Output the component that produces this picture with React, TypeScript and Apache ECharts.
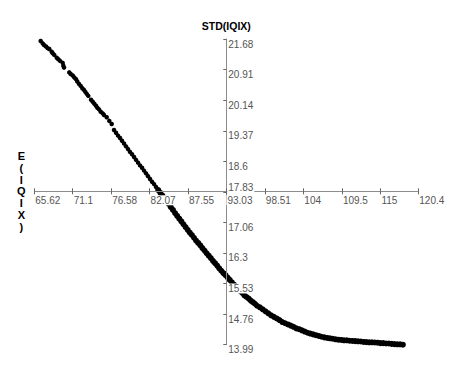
import React, { useEffect, useRef } from 'react';
import * as echarts from 'echarts';

const xTicks = [65.62, 71.1, 76.58, 82.07, 87.55, 93.03, 98.51, 104, 109.5, 115, 120.4];
const yTicks = [13.99, 14.76, 15.53, 16.3, 17.06, 17.83, 18.6, 19.37, 20.14, 20.91, 21.68];
const crossY = 17.83;

const frontierUpper: number[][] = [
  [66.53, 21.63], [66.82, 21.57], [67.0, 21.53], [67.29, 21.49], [67.53, 21.45], [67.76, 21.43],
  [68.1, 21.36], [68.25, 21.32], [68.47, 21.28], [68.82, 21.21], [69.04, 21.17], [69.29, 21.13],
  [69.67, 21.08], [69.76, 21.01], [69.86, 20.96],
  [70.61, 20.84], [70.81, 20.8], [71.1, 20.76], [71.33, 20.71], [71.57, 20.67], [71.75, 20.61],
  [72.0, 20.55], [72.24, 20.5], [72.47, 20.44], [72.71, 20.4], [72.9, 20.35], [73.1, 20.3], [73.32, 20.25],
  [73.71, 20.15], [73.95, 20.1], [74.18, 20.05], [74.42, 20.0], [74.61, 19.95], [74.85, 19.91],
  [75.09, 19.85], [75.38, 19.81], [75.56, 19.77], [75.95, 19.71], [76.32, 19.62], [76.66, 19.54],
  [76.99, 19.39], [77.28, 19.32], [77.56, 19.25], [77.85, 19.19], [78.13, 19.12], [78.42, 19.05],
  [78.7, 18.98], [78.99, 18.91], [79.27, 18.84], [79.56, 18.78], [79.85, 18.71], [80.13, 18.64],
  [80.42, 18.57], [80.7, 18.5], [80.99, 18.44], [81.27, 18.37], [81.56, 18.3], [81.84, 18.23],
  [82.13, 18.16], [82.41, 18.09], [82.7, 18.03], [82.98, 17.96], [83.27, 17.89],
];

const frontierLower: number[][] = [
  [83.3, 17.88], [83.6, 17.81], [83.9, 17.74], [84.2, 17.67], [84.5, 17.6], [84.8, 17.53],
  [85.1, 17.45], [85.4, 17.38], [85.7, 17.3], [86.0, 17.23], [86.3, 17.16], [86.6, 17.09],
  [86.9, 17.02], [87.2, 16.95], [87.5, 16.88], [87.8, 16.81], [88.1, 16.75], [88.4, 16.68],
  [88.7, 16.61], [89.0, 16.55], [89.3, 16.49], [89.6, 16.42], [89.9, 16.36], [90.2, 16.29],
  [90.5, 16.23], [90.8, 16.17], [91.1, 16.1], [91.4, 16.04], [91.7, 15.98], [92.0, 15.91],
  [92.3, 15.85], [92.6, 15.79], [92.9, 15.74], [93.2, 15.68], [93.5, 15.62], [93.8, 15.56],
  [94.1, 15.5], [94.4, 15.45], [94.7, 15.4], [95.0, 15.34], [95.3, 15.29], [95.6, 15.23],
  [95.9, 15.19], [96.2, 15.15], [96.5, 15.1], [96.8, 15.06], [97.1, 15.02], [97.4, 14.97],
  [97.8, 14.93], [98.2, 14.88], [98.6, 14.83], [99.0, 14.78], [99.4, 14.73], [99.8, 14.69],
  [100.2, 14.65], [100.6, 14.61], [101.0, 14.56], [101.4, 14.53], [101.8, 14.5], [102.2, 14.47],
  [102.6, 14.44], [103.0, 14.4], [103.4, 14.38], [103.8, 14.35], [104.2, 14.32], [104.6, 14.29],
  [105.0, 14.27], [105.4, 14.25], [105.8, 14.23], [106.2, 14.21], [106.6, 14.19], [107.0, 14.175],
  [107.4, 14.16], [107.8, 14.15], [108.2, 14.14], [108.6, 14.125], [109.0, 14.116], [109.4, 14.11],
  [109.8, 14.1], [110.2, 14.1], [110.6, 14.09], [111.0, 14.085], [111.4, 14.08], [111.8, 14.075],
  [112.2, 14.07], [112.6, 14.06], [113.0, 14.055], [113.4, 14.05], [113.8, 14.05], [114.2, 14.045],
  [114.6, 14.04], [115.0, 14.03], [115.4, 14.03], [115.8, 14.02], [116.2, 14.02], [116.6, 14.01],
  [117.0, 14.005], [117.4, 14.0], [117.8, 14.0], [118.2, 13.99], [118.6, 13.985], [118.98, 13.98],
];

const strayPoints: number[][] = [[65.72, 21.78], [120.22, 13.96]];

const labelFont = "'Liberation Sans', Arial, sans-serif";
const nameFont = "'Liberation Sans', Arial, sans-serif";

export default function App() {
  const ref = useRef<HTMLDivElement>(null);
  useEffect(() => {
    document.body.style.margin = '0';
    const chart = echarts.init(ref.current as HTMLDivElement, null, { renderer: 'svg' });
    const xMin = xTicks[0];
    const xMax = xTicks[xTicks.length - 1];
    const yMin = yTicks[0];
    const yMax = yTicks[yTicks.length - 1];
    const labelStyle = {
      color: '#555',
      fontSize: 10,
      fontFamily: labelFont,
      backgroundColor: '#fff',
      padding: [0, 1, 0, 1],
    };
    const pointStyle = { color: '#000', opacity: 1 };
    chart.setOption({
      animation: false,
      backgroundColor: '#fff',
      grid: { left: 34.3, top: 39, width: 384, height: 305.7 },
      xAxis: [
        {
          type: 'value', position: 'bottom', offset: -153.4, min: xMin, max: xMax, z: 10,
          name: 'E\n(\nI\nQ\nI\nX\n)', nameLocation: 'start', nameGap: 13,
          nameTextStyle: { align: 'center', verticalAlign: 'middle', fontWeight: 'bold', fontSize: 11, lineHeight: 11.8, color: '#000', fontFamily: nameFont },
          axisLine: { onZero: false, lineStyle: { color: '#8c8c8c', width: 1 } },
          axisTick: { show: true, inside: false, length: 3, customValues: xTicks, lineStyle: { color: '#666' } },
          axisLabel: { ...labelStyle, customValues: xTicks, formatter: (v: number) => String(v), align: 'left', margin: 4 },
          splitLine: { show: false },
        },
        {
          type: 'value', position: 'bottom', offset: -153.4, min: xMin, max: xMax, z: 10,
          axisLine: { show: false, onZero: false },
          axisTick: { show: true, inside: true, length: 3, customValues: xTicks, lineStyle: { color: '#666' } },
          axisLabel: { show: false },
          splitLine: { show: false },
        },
      ],
      yAxis: [
        {
          type: 'value', position: 'left', offset: -192, min: yMin, max: yMax, z: 10,
          name: 'STD(IQIX)', nameLocation: 'end', nameGap: 13,
          nameTextStyle: { align: 'center', verticalAlign: 'middle', fontWeight: 'bold', fontSize: 10.5, color: '#000', fontFamily: nameFont },
          axisLine: { onZero: false, lineStyle: { color: '#8c8c8c', width: 1 } },
          axisTick: { show: true, inside: false, length: 3, customValues: yTicks, lineStyle: { color: '#666' } },
          axisLabel: { ...labelStyle, inside: true, margin: 1, verticalAlign: 'top', customValues: yTicks, formatter: (v: number) => (v === crossY ? '' : String(v)) },
          splitLine: { show: false },
        },
        {
          type: 'value', position: 'left', offset: -192, min: yMin, max: yMax, z: 10,
          axisLine: { show: false, onZero: false },
          axisTick: { show: false },
          axisLabel: { ...labelStyle, inside: true, margin: 1, verticalAlign: 'bottom', customValues: [crossY], formatter: (v: number) => String(v) },
          splitLine: { show: false },
        },
      ],
      series: [
        { type: 'scatter', z: 1, data: frontierUpper, symbol: 'circle', symbolSize: 4.5, itemStyle: pointStyle, silent: true },
        { type: 'scatter', z: 1, data: frontierLower, symbol: 'circle', symbolSize: 6, itemStyle: pointStyle, silent: true },
        { type: 'scatter', z: 1, data: strayPoints, symbol: 'circle', symbolSize: 2.5, itemStyle: pointStyle, silent: true },
      ],
    });
    return () => chart.dispose();
  }, []);
  return <div ref={ref} style={{ width: 474, height: 366 }} />;
}
